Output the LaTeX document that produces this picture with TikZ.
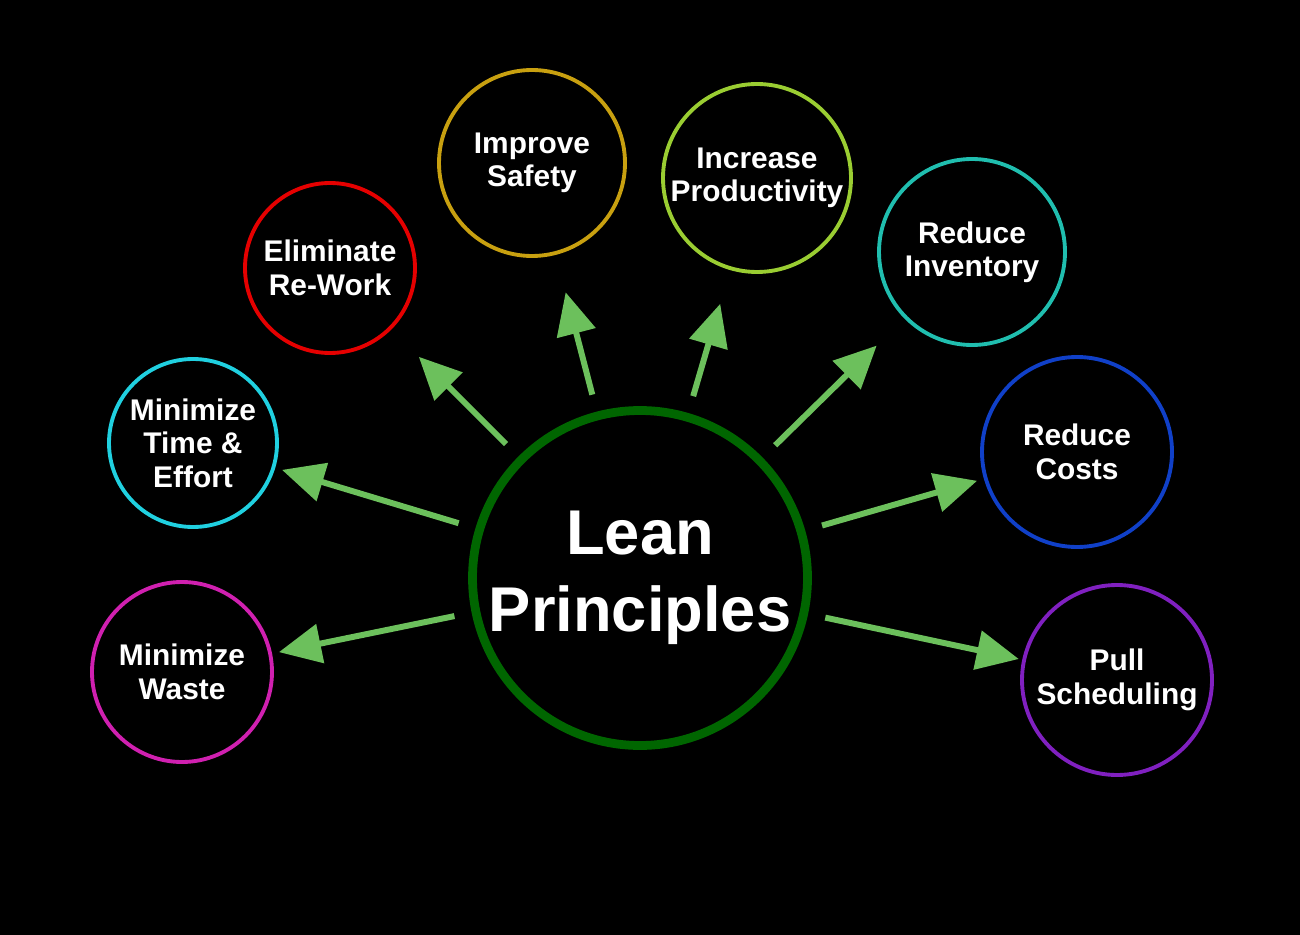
\documentclass[tikz,border=0pt]{standalone}
\usepackage{fontspec}
\setmainfont{Liberation Sans}
\usetikzlibrary{arrows.meta}
\definecolor{lg}{HTML}{6CC05C}
\begin{document}
\begin{tikzpicture}[x=0.02cm,y=-0.02cm,
  ring/.style={circle,draw,line width=2.2pt,text=white,font=\bfseries\fontsize{17}{19}\selectfont,align=center,inner sep=0pt},
  arr/.style={draw=lg,line width=3.4pt,-{Triangle[length=24pt,width=22pt]},shorten <=10pt,shorten >=12pt}]
\fill[black] (0,0) rectangle (1300,935);
\node[ring,draw=green!40!black,line width=5pt,minimum size=335*0.02cm,font=\bfseries\fontsize{36}{44}\selectfont] (lean) at (640,578) {Lean\\Principles};
\node[ring,draw=red!90!black,minimum size=170*0.02cm] (rw) at (330,268) {Eliminate\\Re-Work};
\node[ring,draw={rgb,255:red,200;green,160;blue,16},minimum size=186*0.02cm] (sf) at (532,163) {Improve\\Safety};
\node[ring,draw={rgb,255:red,154;green,205;blue,50},minimum size=188*0.02cm] (pr) at (757,178) {Increase\\Productivity};
\node[ring,draw={rgb,255:red,32;green,190;blue,175},minimum size=186*0.02cm] (iv) at (972,252) {Reduce\\Inventory};
\node[ring,draw={rgb,255:red,16;green,64;blue,200},minimum size=190*0.02cm] (co) at (1077,452) {Reduce\\Costs};
\node[ring,draw={rgb,255:red,128;green,32;blue,192},minimum size=190*0.02cm] (ps) at (1117,680) {Pull\\Scheduling};
\node[ring,draw={rgb,255:red,208;green,32;blue,176},minimum size=180*0.02cm] (mw) at (182,672) {Minimize\\Waste};
\node[ring,draw={rgb,255:red,32;green,208;blue,224},minimum size=168*0.02cm] (te) at (193,443) {Minimize\\Time \&\\Effort};
\draw[arr,shorten >=22pt] (lean) -- (rw);
\draw[arr,shorten >=22pt] (lean) -- (sf);
\draw[arr,shorten >=20pt] (lean) -- (pr);
\draw[arr,shorten >=22pt] (lean) -- (iv);
\draw[arr,shorten >=4pt] (lean) -- (co);
\draw[arr,shorten >=2pt] (lean) -- (ps);
\draw[arr,shorten >=4pt] (lean) -- (te);
\draw[arr,shorten >=4pt] (lean) -- (mw);
\end{tikzpicture}
\end{document}
